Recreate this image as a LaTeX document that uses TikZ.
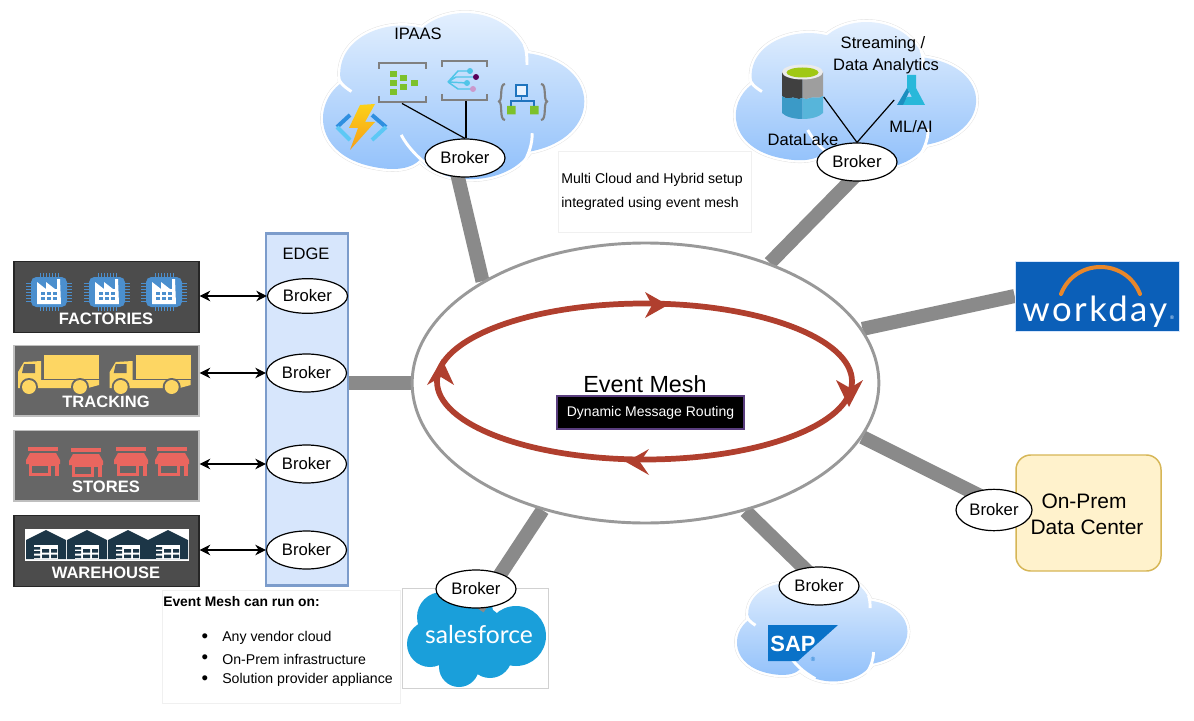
\documentclass[tikz,border=0pt]{standalone}
\usepackage{fontspec}
\setmainfont{Liberation Sans}
\newfontfamily\logofont{Lato}
\newfontfamily\wdayfont[LetterSpace=7]{Lato}
\usetikzlibrary{shapes.geometric,arrows.meta}
\pgfdeclarelayer{back}
\pgfdeclarelayer{mid}
\pgfsetlayers{back,mid,main}
\definecolor{bandgray}{HTML}{8A8A8A}
\definecolor{meshred}{HTML}{B03F2E}
\definecolor{chipblue}{HTML}{4B8FCE}
\definecolor{truckyel}{HTML}{FDD663}
\definecolor{storered}{HTML}{E9665F}
\definecolor{wharedark}{HTML}{1C3647}
\definecolor{hubgreen}{HTML}{7DC12B}
\definecolor{iconcyan}{HTML}{50C5E8}
\definecolor{logicblue}{HTML}{1F74BE}
\definecolor{salesforceblue}{HTML}{1A9FDA}
\definecolor{cloudtop}{HTML}{E8F2FE}
\definecolor{cloudbot}{HTML}{8BBDFA}
\definecolor{edgefill}{HTML}{D7E6FC}
\definecolor{edgeline}{HTML}{7C9CCB}
\definecolor{wdayblue}{HTML}{0B5FB8}
\definecolor{wdayorange}{HTML}{E8872A}
\definecolor{onpremfill}{HTML}{FFF2CC}
\definecolor{onpremline}{HTML}{D6B656}
\definecolor{sapblue}{HTML}{0A72C8}
\definecolor{routeline}{HTML}{5A3E7F}
\definecolor{lakedl}{HTML}{3B9AC7}
\definecolor{lakedr}{HTML}{57B5DA}
\definecolor{lakegreen}{HTML}{A0C814}
\definecolor{flask}{HTML}{28B8DA}
\definecolor{flaskb}{HTML}{1C8FC0}
\definecolor{boltt}{HTML}{FCD116}
\definecolor{boltb}{HTML}{F59E1B}
\definecolor{chevd}{HTML}{2F8FE0}
\definecolor{chevl}{HTML}{5CC8F5}
\newcommand{\fsz}[1]{\fontsize{#1}{#1}\selectfont}
\tikzset{
  x=0.75pt,y=-0.75pt,
  brokernode/.style={ellipse,draw=black,fill=white,line width=0.9pt,minimum width=60pt,minimum height=28.5pt,inner sep=0pt,font=\fsz{12.5}},
  band/.style={draw=bandgray,line width=10.5pt},
  srcbox/.style={rectangle,minimum width=138.75pt,minimum height=53pt,inner sep=0pt,line width=1pt},
  srclabel/.style={text=white,font=\bfseries\fsz{12.4},inner sep=0pt},
  link/.style={draw=black,line width=0.9pt},
  biarrow/.style={draw=black,line width=0.8pt,{Stealth[length=8pt,width=8pt]}-{Stealth[length=8pt,width=8pt]}},
  plain/.style={inner sep=0pt,font=\fsz{12.4}},
  note/.style={inner sep=0pt,anchor=west,font=\fsz{10.6}},
  faintbox/.style={rectangle,draw=black!6,line width=0.5pt,inner sep=0pt},
  anchorpt/.style={rectangle,inner sep=0pt,minimum size=1pt},
}
\newcommand{\cloudshape}[4]{% x y w h
  \begin{scope}[shift={(#1,#2)},xscale=#3/100,yscale=#4/100]
    \def\cloudoutline{(8,42) .. controls (-3,55) and (-2,85) .. (20,92) .. controls (29,95) and (35,93) .. (38,88) .. controls (48,105) and (72,103) .. (80,83) .. controls (108,75) and (108,30) .. (79,24) .. controls (72,-3) and (50,-6) .. (39,9) .. controls (25,3) and (5,15) .. (8,42) -- cycle}
    \draw[black!12,line width=4.2pt] \cloudoutline;
    \draw[white,line width=3.6pt] \cloudoutline;
    \shade[top color=cloudtop,bottom color=cloudbot] \cloudoutline;
    \draw[white,line width=2.2pt] (7,38) .. controls (7,41) and (9,44) .. (12,47);
    \draw[white,line width=2.2pt] (31,73) .. controls (34,82) and (40,91) .. (47,97);
    \draw[white,line width=2.2pt] (81,72) .. controls (81,78) and (80,84) .. (77,92);
    \draw[white,line width=2.2pt] (78,19) .. controls (79,23) and (79,27) .. (79,31);
  \end{scope}}
\newcommand{\factoryicon}[2]{%
  \begin{scope}[shift={(#1,#2)}]
    \foreach \k in {-9,-6,...,9}{
      \draw[chipblue,line width=0.6pt] (\k,-19)--(\k,19);
      \draw[chipblue,line width=0.6pt] (-23,\k)--(23,\k);}
    \fill[chipblue,rounded corners=4pt] (-18,-15) rectangle (18,15);
    \fill[white] (-12,12)--(-12,-10)--(-3,-3)--(-3,-10)--(6,-3)--(8,-3)--(8,-13)--(11,-13)--(12,12)--cycle;
    \foreach \u in {-8,-2,4}{\foreach \v in {0,5}{\fill[chipblue] (\u,\v) rectangle ++(3.5,3);}}
  \end{scope}}
\newcommand{\truckicon}[1]{%
  \begin{scope}[shift={(#1,0)}]
    \fill[truckyel] (44,355) rectangle (99,379);
    \fill[truckyel] (18,388)--(18,372)--(24,362)--(41,361)--(41,380)--(99,380)--(99,385)--(88,388)--cycle;
    \fill[black!60] (24,364)--(35,364)--(35,373)--(22,373)--cycle;
    \fill[black!60] (29,387) circle (9) (80,387) circle (9);
    \fill[truckyel] (29,387) circle (7) (80,387) circle (7);
  \end{scope}}
\newcommand{\storeicon}[2]{%
  \begin{scope}[shift={(#1,#2)}]
    \fill[storered] (-15,447) rectangle (15,451);
    \fill[storered] (-13,453)--(13,453)--(17,460)--(17,464)--(-17,464)--(-17,460)--cycle;
    \fill[storered] (-14,464) rectangle (16,476);
    \fill[black!60] (-11,465.5) rectangle (5,472.5);
    \fill[black!60] (8,465.5) rectangle (12,476);
  \end{scope}}
\newcommand{\whouseicon}[1]{%
  \begin{scope}[shift={(#1,0)}]
    \fill[wharedark] (-20,559)--(-20,540)--(0,530)--(20,540)--(20,559)--cycle;
    \fill[white] (-12,545) rectangle (12,559);
    \fill[wharedark] (-12,547) rectangle (-6,549.5) (-12,551) rectangle (-6,553.5) (-12,555.5) rectangle (-6,558);
    \fill[wharedark] (-4,549) rectangle (3,552.5) (5,549) rectangle (11,552.5);
    \fill[wharedark] (-4,554.5) rectangle (3,558) (5,554.5) rectangle (11,558);
  \end{scope}}
\begin{document}
\begin{tikzpicture}
\useasboundingbox (0,0) rectangle (1194,720);

% ---- back layer: page, clouds and logos
\begin{pgfonlayer}{back}
  \fill[white] (0,0) rectangle (1194,720);
  \cloudshape{320}{13}{262}{167}
  \cloudshape{733}{22}{241}{148}
  \cloudshape{735}{575}{171}{107}
  \node[faintbox,draw=black!18,minimum width=109.5pt,minimum height=75pt] (sfbox) at (475.5,638) {};
  \fill[salesforceblue] (442,617) circle (25) (516,636) circle (30) (430,644) circle (23)
      (459,667) circle (20) (490,656) circle (22) (476,636) circle (31) (475,612) circle (18);
  \node[inner sep=0pt,text=white,font=\logofont\fsz{18.5}] (sftext) at (479,635) {salesforce};
\end{pgfonlayer}

% ---- central mesh
\node[ellipse,draw=black!40,fill=white,line width=2.2pt,minimum width=350pt,minimum height=210pt,inner sep=0pt] (mesh) at (645.5,383) {};
\draw[meshred,line width=4.3pt] (644.5,381.5) ellipse [x radius=207.5,y radius=78];
\fill[meshred] (668,305)--(645,292)--(652,305)--(645,318)--cycle;
\fill[meshred] (849,407)--(836,380)--(850,388)--(863,380)--cycle;
\fill[meshred] (626,462)--(649,449)--(640,462)--(649,475)--cycle;
\fill[meshred] (442,359)--(427,385)--(441,377)--(454,385)--cycle;
\node[inner sep=0pt,font=\fsz{17.5}] (meshtitle) at (645,384) {Event Mesh};
\node[rectangle,fill=black,draw=routeline,line width=1.1pt,minimum width=140pt,minimum height=24.5pt,inner sep=0pt,text=white,font=\fsz{10.5}] (routing) at (650.5,412.5) {\raisebox{-1pt}{Dynamic Message Routing}};

% ---- edge
\node[rectangle,fill=edgefill,draw=edgeline,line width=2.2pt,minimum width=61.5pt,minimum height=264pt,inner sep=0pt] (edge) at (307,409.5) {};
\node[plain] (edgetitle) at (306,254) {EDGE};
\node[brokernode,minimum height=26pt] (be1) at (307.5,296) {Broker};
\node[brokernode] (be2) at (306.5,373) {Broker};
\node[brokernode] (be3) at (306.5,464) {Broker};
\node[brokernode] (be4) at (306.5,550) {Broker};

% ---- sources
\node[srcbox,fill=black!70,draw=black!85] (factories) at (106.5,297) {};
\node[srcbox,fill=black!60,draw=black!25] (tracking) at (106.5,380.5) {};
\node[srcbox,fill=black!60,draw=black!25] (stores) at (106.5,465.5) {};
\node[srcbox,fill=black!70,draw=black!85] (warehouse) at (106.5,551) {};
\node[srclabel] (lfact) at (106,318.5) {FACTORIES};
\node[srclabel] (ltrack) at (106,402) {TRACKING};
\node[srclabel] (lstore) at (106,486.5) {STORES};
\node[srclabel] (lware) at (106,572.5) {WAREHOUSE};
\factoryicon{49}{292}\factoryicon{107}{292}\factoryicon{164}{292}
\truckicon{0}\truckicon{91.7}
\storeicon{43}{0}\storeicon{86}{1}\storeicon{131}{0}\storeicon{172}{0}
\fill[white] (25,529) rectangle (189,561);
\whouseicon{46}\whouseicon{87}\whouseicon{128}\whouseicon{168}
\draw[biarrow] (factories.east |- be1.west) -- (be1.west);
\draw[biarrow] (tracking.east |- be2.west) -- (be2.west);
\draw[biarrow] (stores.east |- be3.west) -- (be3.west);
\draw[biarrow] (warehouse.east |- be4.west) -- (be4.west);

% ---- notes
\begin{pgfonlayer}{back}
\node[faintbox,minimum width=144.75pt,minimum height=60.75pt] (multibox) at (654.5,191.5) {};
\node[faintbox,minimum width=178.5pt,minimum height=85pt] (runbox) at (281,647) {};
\end{pgfonlayer}
\node[note] (multi1) at (561,180) {Multi Cloud and Hybrid setup};
\node[note] (multi2) at (561,204) {integrated using event mesh};
\node[note,font=\bfseries\fsz{10.4}] (run0) at (163,602) {Event Mesh can run on:};
\node[note] (run1) at (222,638) {Any vendor cloud};
\node[note] (run2) at (222,659) {On-Prem infrastructure};
\node[note] (run3) at (222,680) {Solution provider appliance};
\node[inner sep=0pt,font=\fsz{14}] (dot1) at (205,638) {•};
\node[inner sep=0pt,font=\fsz{14}] (dot2) at (205,659) {•};
\node[inner sep=0pt,font=\fsz{14}] (dot3) at (205,680) {•};

% ---- IPAAS
\node[plain] (ipaas) at (418,34) {IPAAS};
\node[anchorpt,minimum width=35pt,minimum height=31pt] (hub) at (402,82.5) {};
\node[anchorpt,minimum width=35pt,minimum height=31pt] (grid) at (466,80.5) {};
\draw[black!50,line width=2.2pt] (379,69)--(379,63)--(426,63)--(426,69) (379,96)--(379,102)--(426,102)--(426,96);
\draw[black!50,line width=2.2pt] (442,67)--(442,61)--(487,61)--(487,67) (442,94)--(442,100)--(487,100)--(487,94);
\foreach \a/\b in {393/74,393/83,403/78,403/87,393/92,414/83}{\fill[hubgreen] (\a-3.5,\b-3.2) rectangle ++(7,6.4);}
\draw[iconcyan,line width=1.1pt] (448,82)--(458,71)--(470,71) (448,82)--(456,77)--(476,77) (448,82)--(467,83) (448,82)--(458,89)--(473,89);
\fill[iconcyan] (470,71) circle (3) (467,83) circle (3);
\fill[violet!70!black] (476,77) circle (3);
\fill[violet!40!white] (473,89) circle (3);
\draw[black!50,line width=1.6pt] (505,84) .. controls (499,84) and (503,100) .. (499,101.5) .. controls (503,103) and (499,120) .. (505,120);
\draw[black!50,line width=1.6pt] (541,84) .. controls (547,84) and (543,100) .. (547,101.5) .. controls (543,103) and (547,120) .. (541,120);
\draw[logicblue,line width=1.2pt,fill=cloudtop] (516,85) rectangle (527,96);
\draw[logicblue,line width=1.1pt] (521.5,96)--(521.5,101)--(511,101)--(511,106) (521.5,101)--(534,101)--(534,106);
\fill[hubgreen] (507,106) rectangle (515.5,114.5) (530,106) rectangle (538.5,114.5);
\draw[chevd,line width=3pt] (350,115)--(337,127);
\draw[chevl,line width=3pt] (337,127)--(350,140);
\draw[chevd,line width=3pt] (372,115)--(386,127);
\draw[chevl,line width=3pt] (386,127)--(372,140);
\shade[top color=boltt,bottom color=boltb] (360,105)--(375,104)--(365,122)--(375,122)--(350,150)--(358,128)--(349,128)--cycle;
\node[brokernode] (bipaas) at (465,158) {Broker};
\draw[link] (hub.south) -- (bipaas.north);
\draw[link] (grid.south) -- (grid.south |- bipaas.north);

% ---- Streaming
\node[plain] (stream1) at (883,44) {Streaming /};
\node[plain] (stream2) at (886,66) {Data Analytics};
\node[plain] (dlake) at (803,140) {DataLake};
\node[plain] (mlai) at (911,127) {ML/AI};
\fill[black!75] (782,72) -- (802.5,72) -- (802.5,98) .. controls (797,101) and (795,96) .. (790,98) .. controls (787,99) and (785,98) .. (782,96) -- cycle;
\fill[black!38] (802.5,72) -- (823,72) -- (823,96) .. controls (818,100) and (814,96) .. (810,98) .. controls (807,99) and (805,100) .. (802.5,98) -- cycle;
\fill[lakedl] (782,96) .. controls (785,98) and (787,99) .. (790,98) .. controls (795,96) and (797,101) .. (802.5,98) -- (802.5,119) .. controls (794,119) and (786,117) .. (782,113) -- cycle;
\fill[lakedr] (823,96) .. controls (818,100) and (814,96) .. (810,98) .. controls (807,99) and (805,100) .. (802.5,98) -- (802.5,119) .. controls (811,119) and (819,117) .. (823,113) -- cycle;
\fill[black!8] (802.5,72) ellipse [x radius=20.5,y radius=7.5];
\fill[lakegreen] (802.5,72.5) ellipse [x radius=16,y radius=5];
\fill[flask] (907,75)--(916,75)--(916,88)--(925,105)--(900,105)--(907,97)--(912,97)--(907,88)--cycle;
\fill[flaskb] (897,105)--(907,88)--(909,92)--(903,105)--cycle;
\node[anchorpt] (lakeport) at (823,96) {};
\node[anchorpt] (mlport) at (895,99) {};
\node[brokernode] (bstream) at (857,162) {Broker};
\draw[link] (lakeport) -- (bstream.north);
\draw[link] (mlport) -- (bstream.north);

% ---- workday
\node[rectangle,fill=wdayblue,draw=edgefill,line width=0.5pt,minimum width=123pt,minimum height=52.5pt,inner sep=0pt] (workday) at (1097,296) {};
\draw[wdayorange,line width=3pt,line cap=round] (1061,294) .. controls (1075,258) and (1126,258) .. (1140,294);
\node[inner sep=0pt,text=white,font=\wdayfont\fsz{26}] (wtext) at (1095,312) {workday};
\node[inner sep=0pt,text=white,font=\fsz{4}] (wreg) at (1172,318) {®};

% ---- on-prem
\node[rectangle,rounded corners=11pt,fill=onpremfill,draw=onpremline,line width=1.1pt,minimum width=108.75pt,minimum height=87pt,inner sep=0pt] (onprem) at (1088.5,513) {};
\node[inner sep=0pt,font=\fsz{15.7}] (on1) at (1084,501) {On-Prem};
\node[inner sep=0pt,font=\fsz{15.7}] (on2) at (1087,527) {Data Center};
\node[brokernode,minimum width=57pt,minimum height=31pt] (bonprem) at (994,510) {Broker};

% ---- SAP
\fill[sapblue] (768,625)--(838,625)--(798,661)--(768,661)--cycle;
\node[inner sep=0pt,text=white,font=\bfseries\fsz{16.5}] (saptext) at (793,644) {SAP};
\node[inner sep=0pt,text=sapblue,font=\fsz{4.5}] (sapreg) at (813,659) {®};
\node[brokernode] (bsap) at (819,586) {Broker};

% ---- salesforce broker
\node[brokernode] (bsf) at (476,589) {Broker};

% ---- bands
\begin{pgfonlayer}{mid}
  \draw[band,shorten <=-8pt] (bipaas.250) -- (mesh.148);
  \draw[band,shorten <=-8pt] (bstream.250) -- (mesh.44.5);
  \draw[band] (workday.west) -- (mesh.14);
  \draw[band,shorten <=-8pt] (bonprem.140) -- (mesh.-14);
  \draw[band,shorten <=-8pt] (bsap.130) -- (mesh.-52.6);
  \draw[band] (bsf.-85) -- (mesh.231);
  \draw[band] (mesh.180) -- (mesh.180 -| edge.east);
\end{pgfonlayer}
\end{tikzpicture}
\end{document}
